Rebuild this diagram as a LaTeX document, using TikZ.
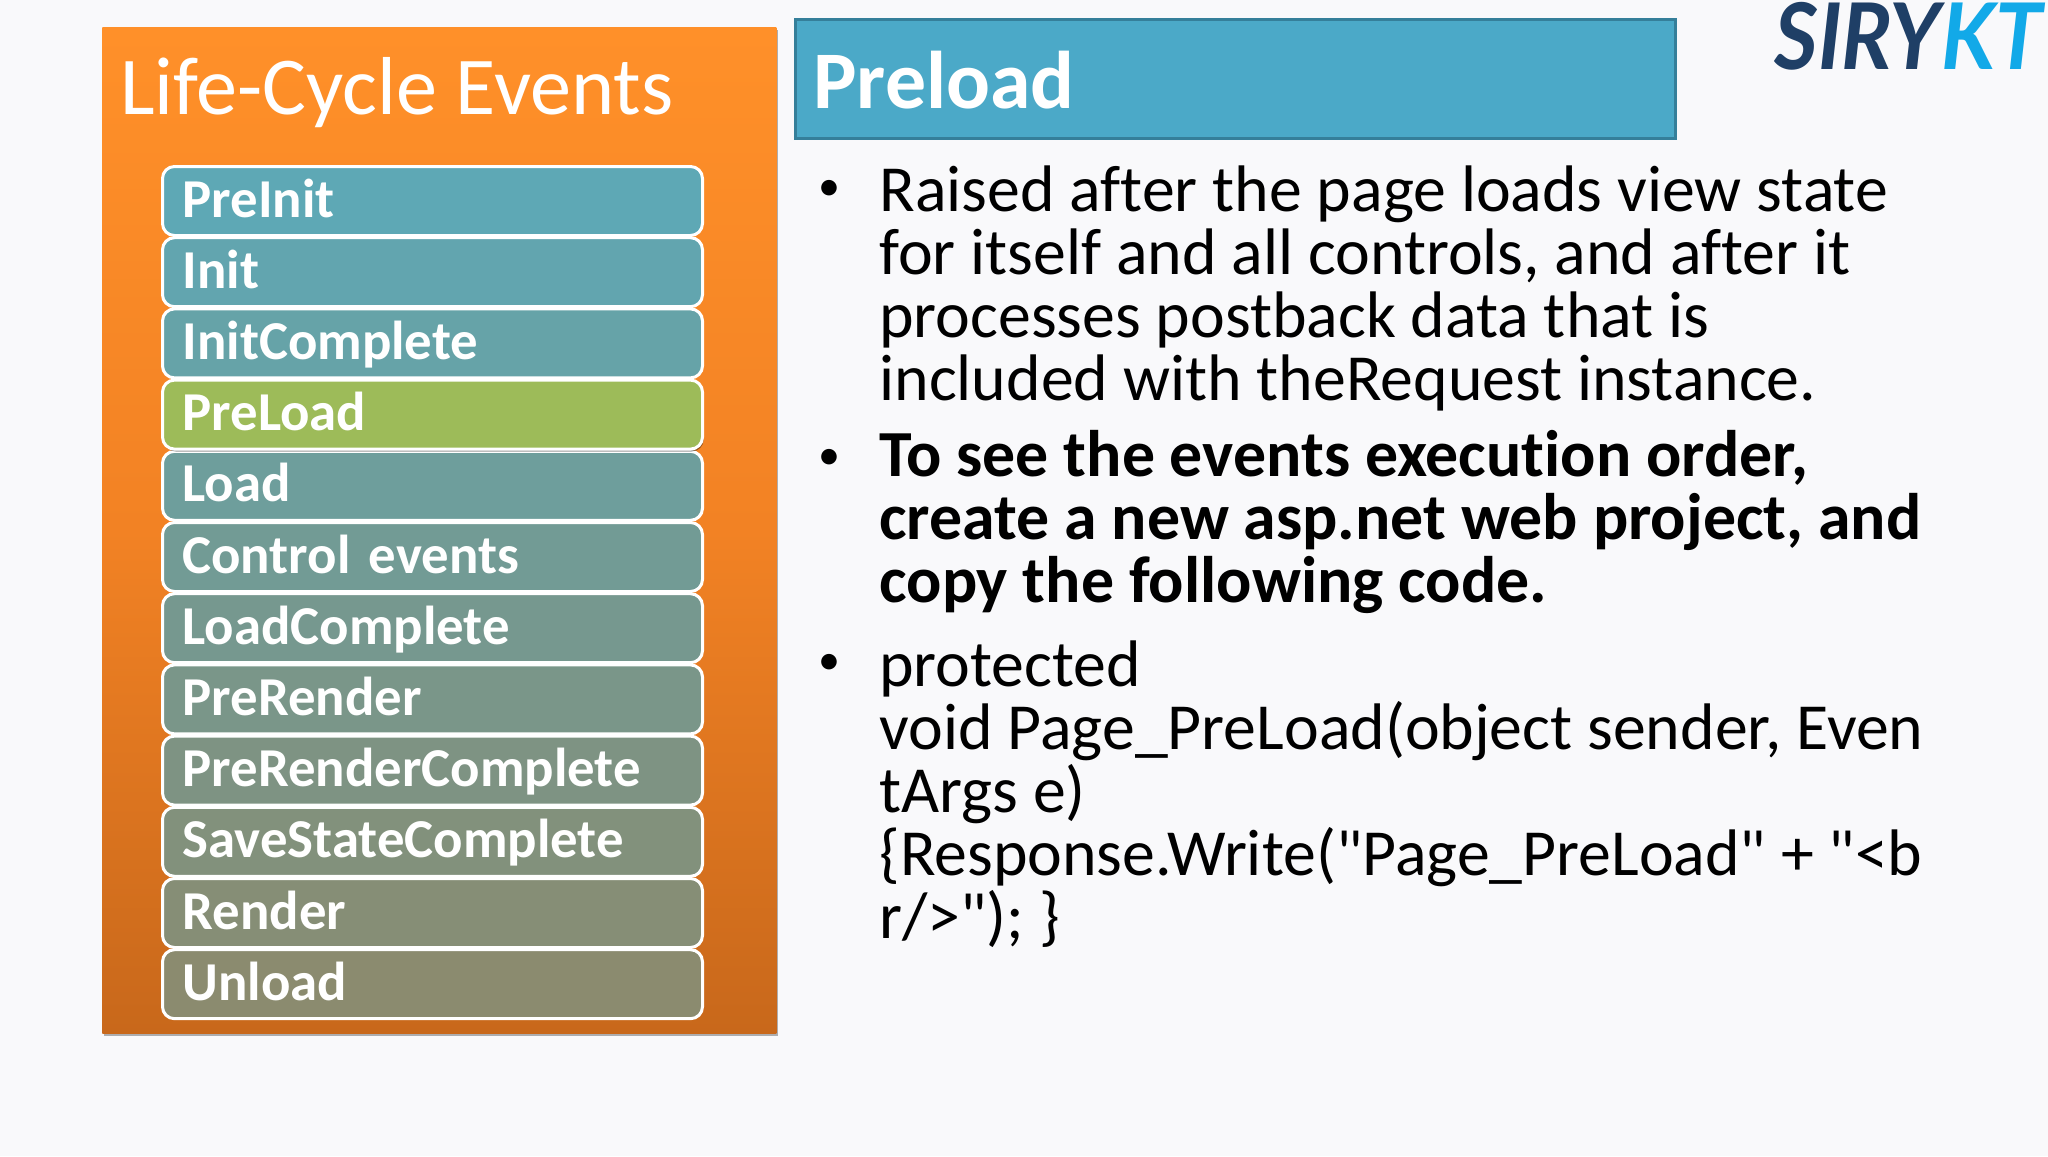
\documentclass[tikz,border=0pt]{standalone}
\usepackage{fontspec}
\newfontfamily\mainfam[Ligatures=NoCommon]{Carlito}
\newfontfamily\logofont[FakeStretch=0.92]{Lato}
\usetikzlibrary{shadows}
\definecolor{pagebg}{HTML}{F9F9FB}
\definecolor{orangetop}{HTML}{FF9029}
\definecolor{orangemid}{HTML}{F28224}
\definecolor{orangebot}{HTML}{C8681B}
\definecolor{rowstart}{HTML}{5EA8B5}
\definecolor{rowend}{HTML}{8B8B6F}
\definecolor{rowhot}{HTML}{9DBB59}
\definecolor{headfill}{HTML}{4BA9C8}
\definecolor{headline}{HTML}{357F9A}
\definecolor{logodark}{HTML}{1F3F66}
\definecolor{logolight}{HTML}{12A9E8}
\tikzset{
  panel/.style={anchor=north west,inner sep=0pt,minimum width=337pt,minimum height=503pt,
    top color=orangetop,bottom color=orangebot,middle color=orangemid,
    drop shadow={shadow xshift=0.8pt,shadow yshift=-1.5pt,opacity=.3,fill=black}},
  rowbox/.style={anchor=north west,draw=white,line width=1.5pt,rounded corners=6pt,
    minimum width=270pt,minimum height=34.5pt,inner xsep=10pt,inner ysep=0pt,
    text width=250pt,align=left,text height=20.1pt,text depth=4pt,text=white,
    font=\mainfam\fontsize{27.4}{27.4}\selectfont\bfseries},
  header/.style={anchor=north west,draw=headline,fill=headfill,line width=1.3pt,
    minimum width=440pt,minimum height=59.5pt,inner sep=0pt},
  headtext/.style={anchor=base west,inner sep=0pt,text=white,font=\mainfam\fontsize{40.9}{40.9}\selectfont\bfseries},
  paneltitle/.style={anchor=base west,inner sep=0pt,text=white,font=\mainfam\fontsize{41.1}{41.1}\selectfont},
  bodytext/.style={anchor=north west,inner sep=0pt,align=left,text=black,
    font=\mainfam\fontsize{32.9}{31.5}\selectfont},
  bullet/.style={anchor=center,inner sep=0pt,text=black,font=\mainfam\fontsize{22}{22}\selectfont}
}
\begin{document}
\begin{tikzpicture}[x=0.5pt,y=-0.5pt]
\useasboundingbox (0,0) rectangle (2048,1156);
\fill[pagebg] (0,0) rectangle (2048,1156);
\node[panel] (panel) at (102,27) {};
\node[paneltitle] (ptitle) at (120,114) {Life-Cycle Events};
\foreach \i/\lab in {0/PreInit,1/Init,2/InitComplete,4/Load,5/Control events,6/LoadComplete,7/PreRender,8/PreRenderComplete,9/SaveStateComplete,10/Render,11/Unload}{
  \pgfmathtruncatemacro{\pct}{\i*100/11}
  \pgfmathsetmacro{\ypos}{165+\i*71.2}
  \node[rowbox,fill=rowend!\pct!rowstart] (row\i) at (161,\ypos) {\lab};
}
\node[rowbox,fill=rowhot,drop shadow={shadow xshift=0.6pt,shadow yshift=-1.2pt,opacity=.4,fill=black}] (row3) at (161,378.6) {PreLoad};
\node[header] (head) at (794,18) {};
\node[headtext] (htitle) at (813,108.5) {Preload};
\node[bullet] (b1) at (829,190) {•};
\node[bodytext] (p1) at (879,165.5) {Raised after the page loads view state\\for itself and all controls, and after it\\processes postback data that is\\included with theRequest instance.};
\node[bullet] (b2) at (829,459) {•};
\node[bodytext,font=\mainfam\fontsize{32.9}{31.5}\selectfont\bfseries] (p2) at (879,429.5) {To see the events execution order,\\create a new asp.net web project, and\\copy the following code.};
\node[bullet] (b3) at (829,664) {•};
\node[bodytext] (p3) at (879,640) {protected\\void Page\_PreLoad(object sender, Even\\tArgs e)\\\{Response.Write("Page\_PreLoad" + "<b\\r/>"); \}};
\node[anchor=base west,inner sep=0pt,font=\logofont\fontsize{46}{46}\selectfont\bfseries\itshape] (logo) at (1774,70) {\textcolor{logodark}{SIRY}\textcolor{logolight}{KT}};
\end{tikzpicture}
\end{document}
